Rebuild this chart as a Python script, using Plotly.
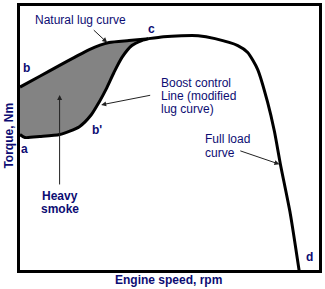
import plotly.graph_objects as go

# Chart units: x = engine speed (arbitrary units), y = torque (arbitrary units)
natural_lug_x = [2, 22, 42, 57, 72, 92, 112, 132]
natural_lug_y = [186, 197, 208, 216, 224, 231, 233, 235]

full_load_x = [132, 147, 165, 182, 199, 222, 232, 242, 252, 259, 265, 275, 284]
full_load_y = [235, 237, 238, 238, 235, 228, 221, 204, 171, 141, 108, 58, 0]

boost_x = [2, 7, 22, 42, 62, 74, 82, 89, 97, 105, 115, 125, 132]
boost_y = [138, 135, 136, 138, 146, 158, 171, 184, 201, 216, 228, 233, 235]

NAVY = "#0d0d73"
FONT = "Arial, Liberation Sans, sans-serif"

fig = go.Figure()

# shaded heavy-smoke region between natural lug curve and boost control line
fig.add_trace(go.Scatter(
    x=natural_lug_x + boost_x[::-1],
    y=natural_lug_y + boost_y[::-1],
    fill="toself", fillcolor="#838383", line=dict(width=0),
    mode="lines", hoverinfo="skip", showlegend=False))

for xs, ys in [(natural_lug_x, natural_lug_y), (full_load_x, full_load_y), (boost_x, boost_y)]:
    fig.add_trace(go.Scatter(x=xs, y=ys, mode="lines",
                             line=dict(color="black", width=3, shape="spline", smoothing=0.6),
                             hoverinfo="skip", showlegend=False))

def label(x, y, text, bold=False, xanchor="center", angle=0, xref="x", yref="y"):
    fig.add_annotation(x=x, y=y, xref=xref, yref=yref, text=f"<b>{text}</b>" if bold else text,
                       showarrow=False, xanchor=xanchor, yanchor="middle", textangle=angle,
                       font=dict(family=FONT, size=12, color=NAVY))

def arrow(hx, hy, tx, ty):
    fig.add_annotation(x=hx, y=hy, ax=tx, ay=ty, xref="x", yref="y", axref="x", ayref="y",
                       text="", showarrow=True, arrowhead=2, arrowsize=1, arrowwidth=1,
                       arrowcolor="#222222", standoff=0)

label(15, 254, "Natural lug curve", xanchor="left")
arrow(90, 231, 75, 245)
label(135, 245, "c", bold=True)
label(9, 205, "b", bold=True)
label(7, 123, "a", bold=True)
label(80, 143, "b'", bold=True)
label(142, 190, "Boost control", xanchor="left")
label(142, 177, "Line (modified", xanchor="left")
label(142, 164, "lug curve)", xanchor="left")
arrow(84, 168, 135, 178)
arrow(42, 178, 42, 86)
label(42, 76, "Heavy", bold=True)
label(42, 63, "smoke", bold=True)
label(187, 133, "Full load", xanchor="left")
label(187, 119, "curve", xanchor="left")
arrow(264, 108, 223, 122)
label(294, 14, "d", bold=True)
label(-0.04, 137, "Torque, Nm", bold=True, angle=-90, xref="paper")
label(152, -0.037, "Engine speed, rpm", bold=True, yref="paper")

axis = dict(showline=True, mirror=True, linewidth=3, linecolor="black", showgrid=False,
            zeroline=False, showticklabels=False, ticks="", fixedrange=True)
fig.update_layout(
    width=325, height=289, margin=dict(l=20, r=3, t=3, b=19),
    paper_bgcolor="white", plot_bgcolor="white",
    xaxis=dict(range=[2, 304], **axis),
    yaxis=dict(range=[1, 268], **axis),
)
fig.write_html("out.html", config={"displayModeBar": False})
